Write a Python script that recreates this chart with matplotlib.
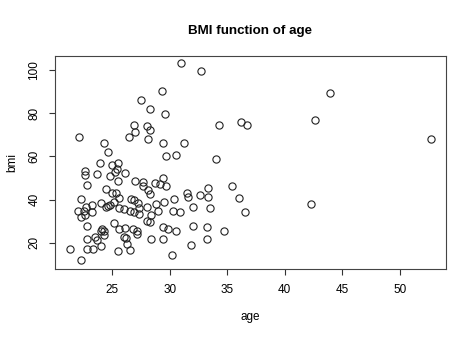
import matplotlib
matplotlib.use('Agg')
import matplotlib.pyplot as plt

plt.rcParams['font.family'] = ['Liberation Sans', 'DejaVu Sans']

# age / bmi pairs
age = [31.0, 32.7, 29.3, 27.5, 28.3, 29.6, 26.9, 28.0, 28.3, 27.0,
       26.4, 28.1, 22.1, 24.3, 29.4, 24.6, 34.3, 36.2, 36.7, 31.2,
       30.5, 34.0, 29.7, 33.3, 35.4, 31.5, 31.6, 32.6, 33.3, 36.0,
       30.4, 32.0, 33.5, 30.3, 30.9, 36.5, 32.0, 33.2, 34.7, 30.5,
       33.2, 31.8, 30.2, 43.9, 42.6, 52.7, 42.3, 23.9, 25.0, 25.5,
       22.6, 22.6, 23.7, 24.8, 25.2, 26.1, 25.5, 22.8, 27.0, 27.7,
       27.7, 28.7, 29.1, 29.4, 29.7, 28.1, 28.3, 24.4, 25.0, 25.3,
       22.3, 25.6, 26.6, 26.9, 27.2, 24.0, 24.4, 24.6, 24.8, 25.1,
       23.2, 22.7, 22.0, 22.5, 23.2, 22.3, 22.6, 25.6, 26.0, 26.5,
       26.9, 27.3, 27.3, 28.0, 28.8, 29.5, 29.0, 28.4, 28.0, 28.3,
       25.1, 22.8, 24.1, 24.3, 24.0, 25.6, 26.1, 26.8, 27.1, 27.1,
       29.4, 29.8, 22.8, 23.5, 23.7, 24.0, 26.0, 26.2, 26.3, 26.5,
       28.4, 29.4, 21.3, 22.8, 23.3, 25.5, 22.3, 24.3, 25.4]
bmi = [103.3, 99.4, 90.4, 86.2, 82.2, 79.7, 74.6, 74.2, 72.3, 71.2,
       68.9, 68.3, 68.9, 66.3, 66.3, 62.1, 74.4, 75.9, 74.4, 66.3,
       60.6, 58.9, 60.1, 45.3, 46.2, 42.9, 41.3, 42.1, 41.3, 40.6,
       40.1, 36.4, 36.1, 34.5, 34.2, 34.4, 27.9, 27.1, 25.6, 25.4,
       21.6, 18.8, 14.4, 89.3, 76.9, 68.1, 37.8, 57.0, 55.8, 57.0,
       53.2, 51.2, 51.7, 50.9, 52.7, 52.4, 48.7, 46.6, 48.7, 48.1,
       46.2, 47.8, 47.0, 50.0, 46.2, 44.4, 42.4, 45.0, 42.9, 43.1,
       40.4, 40.6, 40.4, 39.8, 38.2, 38.2, 36.4, 37.0, 37.6, 39.0,
       37.6, 36.4, 34.8, 34.8, 34.1, 32.0, 32.8, 36.2, 35.5, 34.5,
       34.1, 33.1, 35.9, 36.7, 37.9, 39.0, 34.5, 32.8, 30.0, 29.7,
       29.3, 27.9, 26.3, 25.6, 25.3, 26.2, 26.9, 26.5, 25.3, 23.9,
       27.4, 26.5, 21.6, 22.5, 21.3, 18.5, 22.5, 22.3, 19.4, 16.6,
       21.6, 21.9, 17.1, 16.9, 16.9, 16.3, 11.9, 23.8, 54.4]

xticks = [25, 30, 35, 40, 45, 50]
yticks = [20, 40, 60, 80, 100]

fig = plt.figure(figsize=(4.74, 3.38), dpi=100)
ax = fig.add_axes([0.116, 0.204, 0.824, 0.630])

ax.plot(age, bmi, 'o', markersize=5.2, markerfacecolor='none',
        markeredgecolor='#222222', markeredgewidth=0.8)

ax.set_xlim(20.0, 54.0)
ax.set_ylim(7.8, 106.5)
ax.set_xticks(xticks)
ax.set_yticks(yticks)
ax.set_yticklabels([str(v) for v in yticks], rotation=90, va='center')
ax.tick_params(length=4.5, width=0.8, color='#333333', labelsize=8.5, pad=6)
for s in ax.spines.values():
    s.set_linewidth(0.8)
    s.set_color('#444444')

ax.set_xlabel('age', fontsize=8.5, labelpad=11)
ax.set_ylabel('bmi', fontsize=8.5, labelpad=7)
ax.set_title('BMI function of age', fontsize=9.6, fontweight='bold', pad=16)

fig.savefig('out.png', dpi=100)
